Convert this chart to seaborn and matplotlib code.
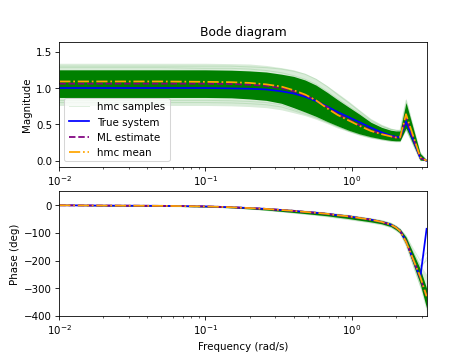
import matplotlib
matplotlib.use("Agg")
import matplotlib.pyplot as plt
import seaborn as sns

# frequency grid (rad/s)
freq = [0.01, 0.02, 0.05, 0.1, 0.15, 0.2, 0.26, 0.33, 0.4, 0.48, 0.57, 0.68,
        0.8, 0.95, 1.13, 1.35, 1.6, 1.85, 2.0, 2.14, 2.35, 2.94, 3.25]

# --- magnitude ---
true_mag = [1.0, 1.0, 1.0, 1.0, 0.995, 0.99, 0.98, 0.955, 0.925, 0.88, 0.82, 0.745,
            0.67, 0.60, 0.53, 0.455, 0.39, 0.345, 0.33, 0.32, 0.54, 0.04, 0.0]
ml_mag = [1.06, 1.06, 1.06, 1.06, 1.055, 1.045, 1.03, 1.0, 0.955, 0.90, 0.83, 0.735,
          0.64, 0.565, 0.49, 0.42, 0.37, 0.335, 0.32, 0.31, 0.60, 0.04, 0.0]
mean_mag = [1.09, 1.09, 1.09, 1.085, 1.08, 1.07, 1.05, 1.02, 0.97, 0.91, 0.83, 0.72,
            0.63, 0.555, 0.48, 0.41, 0.365, 0.335, 0.32, 0.32, 0.64, 0.05, 0.0]
# dense part of the posterior sample cloud
core_mag_hi = [1.25, 1.25, 1.25, 1.25, 1.245, 1.235, 1.22, 1.19, 1.16, 1.11, 1.04, 0.94,
               0.84, 0.74, 0.64, 0.53, 0.46, 0.42, 0.41, 0.41, 0.80, 0.10, 0.01]
core_mag_lo = [0.87, 0.87, 0.87, 0.87, 0.865, 0.85, 0.83, 0.79, 0.73, 0.67, 0.61, 0.54,
               0.48, 0.42, 0.37, 0.33, 0.30, 0.28, 0.275, 0.275, 0.45, 0.01, 0.0]
# faint outer edge of the cloud
outer_mag_hi = [1.34, 1.34, 1.34, 1.34, 1.335, 1.33, 1.31, 1.28, 1.25, 1.20, 1.13, 1.03,
                0.93, 0.82, 0.70, 0.58, 0.50, 0.45, 0.43, 0.43, 0.86, 0.12, 0.01]
outer_mag_lo = [0.76, 0.76, 0.76, 0.76, 0.755, 0.745, 0.73, 0.70, 0.66, 0.62, 0.57, 0.51,
                0.45, 0.40, 0.35, 0.31, 0.285, 0.265, 0.26, 0.26, 0.42, 0.0, 0.0]
sample_mag = [
    [1.30, 1.30, 1.30, 1.30, 1.30, 1.29, 1.28, 1.26, 1.23, 1.19, 1.12, 1.02,
     0.91, 0.80, 0.68, 0.56, 0.48, 0.43, 0.42, 0.42, 0.83, 0.11, 0.01],
    [1.28, 1.28, 1.28, 1.27, 1.27, 1.26, 1.24, 1.21, 1.17, 1.12, 1.05, 0.95,
     0.85, 0.75, 0.65, 0.54, 0.47, 0.43, 0.42, 0.41, 0.78, 0.09, 0.01],
    [0.80, 0.80, 0.80, 0.80, 0.795, 0.785, 0.77, 0.74, 0.69, 0.64, 0.59, 0.53,
     0.47, 0.41, 0.36, 0.32, 0.29, 0.27, 0.265, 0.265, 0.43, 0.01, 0.0],
    [0.83, 0.83, 0.83, 0.83, 0.825, 0.815, 0.80, 0.77, 0.71, 0.66, 0.60, 0.53,
     0.47, 0.41, 0.36, 0.32, 0.295, 0.275, 0.27, 0.27, 0.44, 0.01, 0.0],
]

# --- phase (deg) ---
true_ph = [0, -1, -2, -4, -7, -10, -13, -17, -20, -24, -27, -31,
           -36, -40, -46, -52, -60, -70, -80, -92, -130, -262, -85]
ml_ph = [0, -1, -2, -4, -7, -10, -13, -17, -20, -24, -27, -31,
         -36, -40, -46, -52, -60, -70, -80, -92, -130, -262, -330]
mean_ph = [0, -1, -2, -4, -7, -10, -13, -17, -20, -24, -27, -31,
           -36, -40, -46, -52, -60, -70, -80, -93, -132, -258, -329]
core_ph_hi = [0, 0, -1, -3, -6, -9, -12, -15, -18, -22, -25, -29,
              -33, -37, -43, -49, -56, -65, -75, -86, -115, -230, -300]
core_ph_lo = [0, -2, -3, -6, -9, -13, -17, -22, -26, -30, -34, -38,
              -43, -48, -54, -60, -67, -77, -88, -100, -140, -285, -372]
outer_ph_hi = [0, 0, -1, -2, -5, -8, -11, -14, -17, -20, -23, -27,
               -31, -35, -41, -47, -54, -63, -72, -83, -108, -215, -250]
outer_ph_lo = [0, -2, -4, -7, -10, -14, -19, -24, -29, -33, -37, -42,
               -47, -52, -58, -64, -71, -81, -92, -104, -148, -300, -385]
sample_ph = [
    [0, -1, -2, -4, -6, -9, -12, -15, -18, -21, -24, -28,
     -32, -36, -42, -48, -55, -64, -74, -85, -112, -200, -172],
    [0, -1, -2, -4, -7, -10, -13, -17, -20, -23, -26, -30,
     -34, -38, -44, -50, -57, -66, -76, -88, -120, -235, -190],
    [0, -1, -2, -4, -6, -9, -12, -16, -19, -22, -25, -29,
     -33, -37, -43, -49, -56, -65, -75, -87, -118, -220, -200],
    [0, -2, -3, -6, -9, -13, -18, -23, -27, -31, -35, -40,
     -45, -50, -56, -62, -69, -79, -90, -102, -145, -290, -345],
]

fig, (ax1, ax2) = plt.subplots(2, 1, figsize=(6.4, 4.8), dpi=74.0625)


def draw_panel(ax, samples, out_lo, out_hi, lo, hi, true, ml, mean):
    ax.fill_between(freq, out_lo, out_hi, color='green', alpha=0.15, lw=0)
    for i, s in enumerate(samples):
        sns.lineplot(x=freq, y=s, ax=ax, color='green', alpha=0.12, lw=1,
                     label='hmc samples' if i == 0 else None, legend=False)
    ax.fill_between(freq, lo, hi, color='green', alpha=1.0, lw=0)
    sns.lineplot(x=freq, y=true, ax=ax, color='blue', lw=1.7,
                 label='True system', legend=False)
    sns.lineplot(x=freq, y=ml, ax=ax, color='purple', ls='--', lw=1.7,
                 label='ML estimate', legend=False)
    sns.lineplot(x=freq, y=mean, ax=ax, color='orange', ls='-.', lw=1.7,
                 label='hmc mean', legend=False)
    ax.set_xscale('log')
    ax.set_xlim(0.01, 3.25)


draw_panel(ax1, sample_mag, outer_mag_lo, outer_mag_hi, core_mag_lo, core_mag_hi,
           true_mag, ml_mag, mean_mag)
ax1.set_ylim(-0.08, 1.63)
ax1.set_yticks([0.0, 0.5, 1.0, 1.5])
ax1.set_ylabel('Magnitude')
ax1.set_title('Bode diagram')
ax1.legend(loc='lower left')

draw_panel(ax2, sample_ph, outer_ph_lo, outer_ph_hi, core_ph_lo, core_ph_hi,
           true_ph, ml_ph, mean_ph)
ax2.set_ylim(-400, 50)
ax2.set_yticks([0, -100, -200, -300, -400])
ax2.set_ylabel('Phase (deg)')
ax2.set_xlabel('Frequency (rad/s)')

fig.savefig('out.png', dpi=74.0625)
